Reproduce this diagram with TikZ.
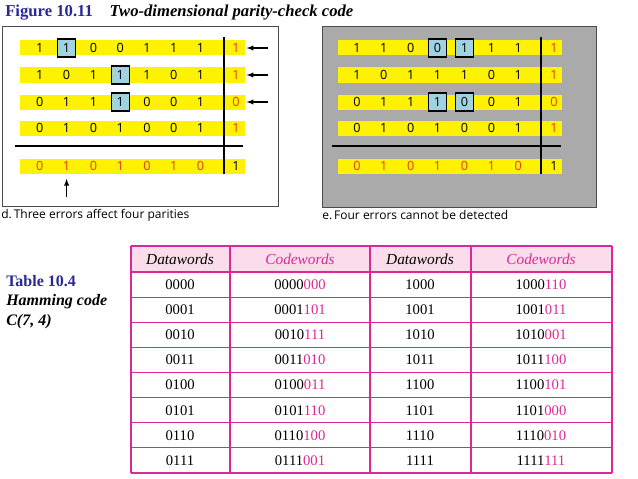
\documentclass[tikz,border=0pt]{standalone}
\usepackage{fontspec}
\setmainfont{Liberation Serif}
\newfontfamily\digitfont{Open Sans}
\usetikzlibrary{positioning}
\definecolor{figblue}{RGB}{40,40,150}
\definecolor{parred}{RGB}{230,60,30}
\definecolor{errbox}{RGB}{160,210,225}
\definecolor{tabline}{RGB}{220,40,150}
\definecolor{tabhead}{RGB}{250,220,235}
\definecolor{panelgray}{RGB}{170,170,170}
\tikzset{
  bit/.style={font=\digitfont\fontsize{9.5}{10}\selectfont, inner sep=0pt},
  errbit/.style={bit, draw=black, fill=errbox, minimum size=13.5pt, line width=.8pt},
  bar/.style={fill=yellow},
  panel/.style={draw=black!70, line width=.6pt},
  cell/.style={font=\fontsize{11}{12}\selectfont, inner sep=0pt}
}
\begin{document}
\begin{tikzpicture}[x=0.75pt,y=-0.75pt]
\useasboundingbox (0,0) rectangle (638,478);
% Title
\node[anchor=west, inner sep=0pt, font=\bfseries\fontsize{12.5}{13}\selectfont] (title) at (5,13)
  {\textcolor{figblue}{Figure 10.11}\quad\textit{Two-dimensional parity-check code}};
% Left panel
\draw[panel, fill=white] (2,26) rectangle (278,206);
% Right panel
\draw[panel, fill=panelgray] (322,26) rectangle (596,207);
\foreach \y in {48,75,102,128,166}{
  \fill[bar] (20,\y-7.5) rectangle (245,\y+7.5);
  \fill[bar] (338,\y-7.5) rectangle (562,\y+7.5);
}
% Left rows
\foreach \r/\y/\bits/\pb/\err in {1/48/{1,1,0,0,1,1,1}/1/2, 2/75/{1,0,1,1,1,0,1}/1/4,
    3/102/{0,1,1,1,0,0,1}/0/4, 4/128/{0,1,0,1,0,0,1}/1/0}{
  \foreach \b [count=\c] in \bits{
    \pgfmathsetmacro{\xx}{13+26.8*\c}
    \ifnum\c=\err
      \node[errbit] (l\r c\c) at (\xx,\y) {\b};
    \else
      \node[bit] (l\r c\c) at (\xx,\y) {\b};
    \fi
  }
  \node[bit, text=parred] (l\r p) at (236,\y) {\pb};
}
\foreach \b [count=\c] in {0,1,0,1,0,1,0}
  \node[bit, text=parred] (l5c\c) at (13+26.8*\c,166) {\b};
\node[bit] (l5p) at (236,166) {1};
\draw[line width=1.2pt] (224,37) -- (224,174);
\draw[line width=1.2pt] (15,146) -- (243,146);
\foreach \r in {1,2,3}{
  \coordinate (la\r) at (268,0 |- l\r p);
  \draw[-latex, thick] (la\r) -- ([xshift=5pt]l\r p.east);
}
\coordinate (up) at (l5c2 |- 0,197);
\draw[-latex, thick] (up) -- ([yshift=-6pt]l5c2.south);
% Right rows
\foreach \r/\y/\bits/\pb/\erra/\errb in {1/48/{1,1,0,0,1,1,1}/1/4/5, 2/75/{1,0,1,1,1,0,1}/1/0/0,
    3/102/{0,1,1,1,0,0,1}/0/4/5, 4/128/{0,1,0,1,0,0,1}/1/0/0}{
  \foreach \b [count=\c] in \bits{
    \pgfmathsetmacro{\xx}{330+26.9*\c}
    \pgfmathtruncatemacro{\iserr}{(\c==\erra)||(\c==\errb)}
    \ifnum\iserr=1
      \node[errbit] (r\r c\c) at (\xx,\y) {\b};
    \else
      \node[bit] (r\r c\c) at (\xx,\y) {\b};
    \fi
  }
  \node[bit, text=parred] (r\r p) at (554,\y) {\pb};
}
\foreach \b [count=\c] in {0,1,0,1,0,1,0}
  \node[bit, text=parred] (r5c\c) at (330+26.9*\c,166) {\b};
\node[bit] (r5p) at (554,166) {1};
\draw[line width=1.2pt] (541,37) -- (541,174);
\draw[line width=1.2pt] (332,146) -- (561,146);
% Captions
\node[anchor=west, inner sep=0pt, font=\digitfont\fontsize{9}{10}\selectfont] (capd) at (1,215)
  {d.\,Three errors affect four parities};
\node[anchor=west, inner sep=0pt, font=\digitfont\fontsize{9}{10}\selectfont] (cape) at (322,215)
  {e.\,Four errors cannot be detected};
% Table caption
\node[anchor=north west, align=left, inner sep=0pt, font=\bfseries\fontsize{12}{14.5}\selectfont] (tcap) at (6,275)
  {\textcolor{figblue}{Table 10.4}\\\textit{Hamming code}\\\textit{C(7, 4)}};
% Table
\fill[tabhead] (131,246) rectangle (612,272);
\foreach \x in {131,230,370,471,612}
  \draw[tabline, line width=.8pt] (\x,246) -- (\x,473);
\foreach \i in {0,...,8}
  \draw[tabline, line width=.8pt] (131,{272+25.125*\i}) -- (612,{272+25.125*\i});
\draw[tabline, line width=.8pt] (131,246) -- (612,246);
\node[cell, font=\itshape\fontsize{11.5}{12}\selectfont] (h1) at (180,259) {Datawords};
\node[cell, font=\itshape\fontsize{11.5}{12}\selectfont, text=tabline] (h2) at (300,259) {Codewords};
\node[cell, font=\itshape\fontsize{11.5}{12}\selectfont] (h3) at (420,259) {Datawords};
\node[cell, font=\itshape\fontsize{11.5}{12}\selectfont, text=tabline] (h4) at (541,259) {Codewords};
\foreach \d/\p [count=\i] in {0000/000,0001/101,0010/111,0011/010,0100/011,0101/110,0110/100,0111/001}{
  \pgfmathsetmacro{\yy}{272+25.125*\i-12.5}
  \node[cell] (dl\i) at (180,\yy) {\d};
  \node[cell] (cl\i) at (300,\yy) {\d\textcolor{tabline}{\p}};
}
\foreach \d/\p [count=\i] in {1000/110,1001/011,1010/001,1011/100,1100/101,1101/000,1110/010,1111/111}{
  \pgfmathsetmacro{\yy}{272+25.125*\i-12.5}
  \node[cell] (dr\i) at (420,\yy) {\d};
  \node[cell] (cr\i) at (541,\yy) {\d\textcolor{tabline}{\p}};
}
\end{tikzpicture}
\end{document}
